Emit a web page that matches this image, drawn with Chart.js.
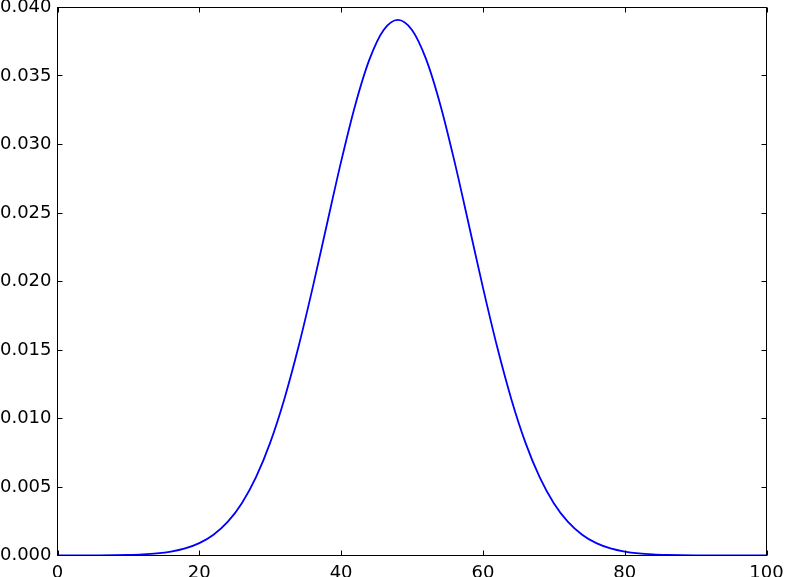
<!DOCTYPE html>
<html>
<head>
<meta charset="utf-8">
<script src="https://cdn.jsdelivr.net/npm/chart.js@4/dist/chart.umd.min.js"></script>
<style>
  html, body { margin: 0; padding: 0; background: #fff; }
  #wrap { width: 785px; height: 577px; }
</style>
</head>
<body>
<div id="wrap"><canvas id="curve" width="785" height="577"></canvas></div>
<script>
// x positions (every 2 units) and the curve height
var xValues = [0, 2, 4, 6, 8, 10, 12, 14, 16, 18, 20, 22, 24, 26, 28, 30, 32, 34, 36, 38,
               40, 42, 44, 46, 48, 50, 52, 54, 56, 58, 60, 62, 64, 66, 68, 70, 72, 74, 76, 78,
               80, 82, 84, 86, 88, 90, 92, 94, 96, 98, 100];
var density = [0.0000006, 0.0000015, 0.0000036, 0.0000081, 0.0000179, 0.0000379, 0.0000771, 0.000151, 0.000285, 0.000517,
               0.00090, 0.00152, 0.00245, 0.00382, 0.00572, 0.00824, 0.01143, 0.01525, 0.01957, 0.02418,
               0.02875, 0.03289, 0.03621, 0.03836, 0.0391, 0.03836, 0.03621, 0.03289, 0.02875, 0.02418,
               0.01957, 0.01525, 0.01143, 0.00824, 0.00572, 0.00382, 0.00245, 0.00152, 0.00090, 0.000517,
               0.000285, 0.000151, 0.0000771, 0.0000379, 0.0000179, 0.0000081, 0.0000036, 0.0000015, 0.0000006, 0.0000002,
               0.0000001];

var xTicks = [0, 20, 40, 60, 80, 100];
var yTicks = [0, 0.005, 0.010, 0.015, 0.020, 0.025, 0.030, 0.035, 0.040];

var FONT = { family: 'DejaVu Sans', size: 18 };

// matplotlib style frame with ticks pointing inward on all four sides
var frameTicks = {
    id: 'frameTicks',
    afterDraw: function(chart) {
        var ctx = chart.ctx;
        var a = chart.chartArea;
        var xs = chart.scales.x, ys = chart.scales.y;
        var len = 5;
        ctx.save();
        ctx.strokeStyle = '#000';
        ctx.lineWidth = 1;
        ctx.beginPath();
        xTicks.forEach(function(v) {
            var px = Math.round(xs.getPixelForValue(v)) + 0.5;
            ctx.moveTo(px, a.bottom); ctx.lineTo(px, a.bottom - len);
            ctx.moveTo(px, a.top); ctx.lineTo(px, a.top + len);
        });
        yTicks.forEach(function(v) {
            var py = Math.round(ys.getPixelForValue(v) - 0.5) + 0.5;
            ctx.moveTo(a.left, py); ctx.lineTo(a.left + len, py);
            ctx.moveTo(a.right, py); ctx.lineTo(a.right - len, py);
        });
        ctx.stroke();
        ctx.strokeRect(a.left, a.top, a.right - a.left, a.bottom - a.top);
        ctx.restore();
    }
};

var ctx = document.getElementById('curve').getContext('2d');
var chart = new Chart(ctx, {
    type: 'line',
    data: {
        datasets: [{
            data: xValues.map(function(x, i) { return { x: x, y: density[i] }; }),
            borderColor: '#0000ff',
            borderWidth: 1.8,
            pointRadius: 0,
            fill: false,
            cubicInterpolationMode: 'monotone'
        }]
    },
    options: {
        responsive: false,
        animation: false,
        layout: { padding: { top: 7.5, right: 18.5, left: 0, bottom: 0 } },
        plugins: {
            legend: { display: false },
            tooltip: { enabled: false }
        },
        scales: {
            x: {
                type: 'linear',
                min: 0,
                max: 100,
                grid: { display: false, drawTicks: false },
                border: { display: false },
                afterBuildTicks: function(s) { s.ticks = xTicks.map(function(v) { return { value: v }; }); },
                ticks: {
                    font: FONT,
                    color: '#000',
                    padding: 7,
                    maxRotation: 0,
                    autoSkip: false,
                    callback: function(v) { return String(v); }
                },
                afterFit: function(s) {
                    s.height = 21.5;
                    s.paddingLeft = 0;
                    s.paddingRight = 0;
                }
            },
            y: {
                min: 0,
                max: 0.04,
                grid: { display: false, drawTicks: false },
                border: { display: false },
                afterBuildTicks: function(s) { s.ticks = yTicks.map(function(v) { return { value: v }; }); },
                ticks: {
                    font: FONT,
                    color: '#000',
                    padding: 6,
                    autoSkip: false,
                    callback: function(v) { return Number(v).toFixed(3); }
                },
                afterFit: function(s) {
                    s.width = 57.5;
                    s.paddingTop = 0;
                    s.paddingBottom = 0;
                }
            }
        }
    },
    plugins: [frameTicks]
});
</script>
</body>
</html>
